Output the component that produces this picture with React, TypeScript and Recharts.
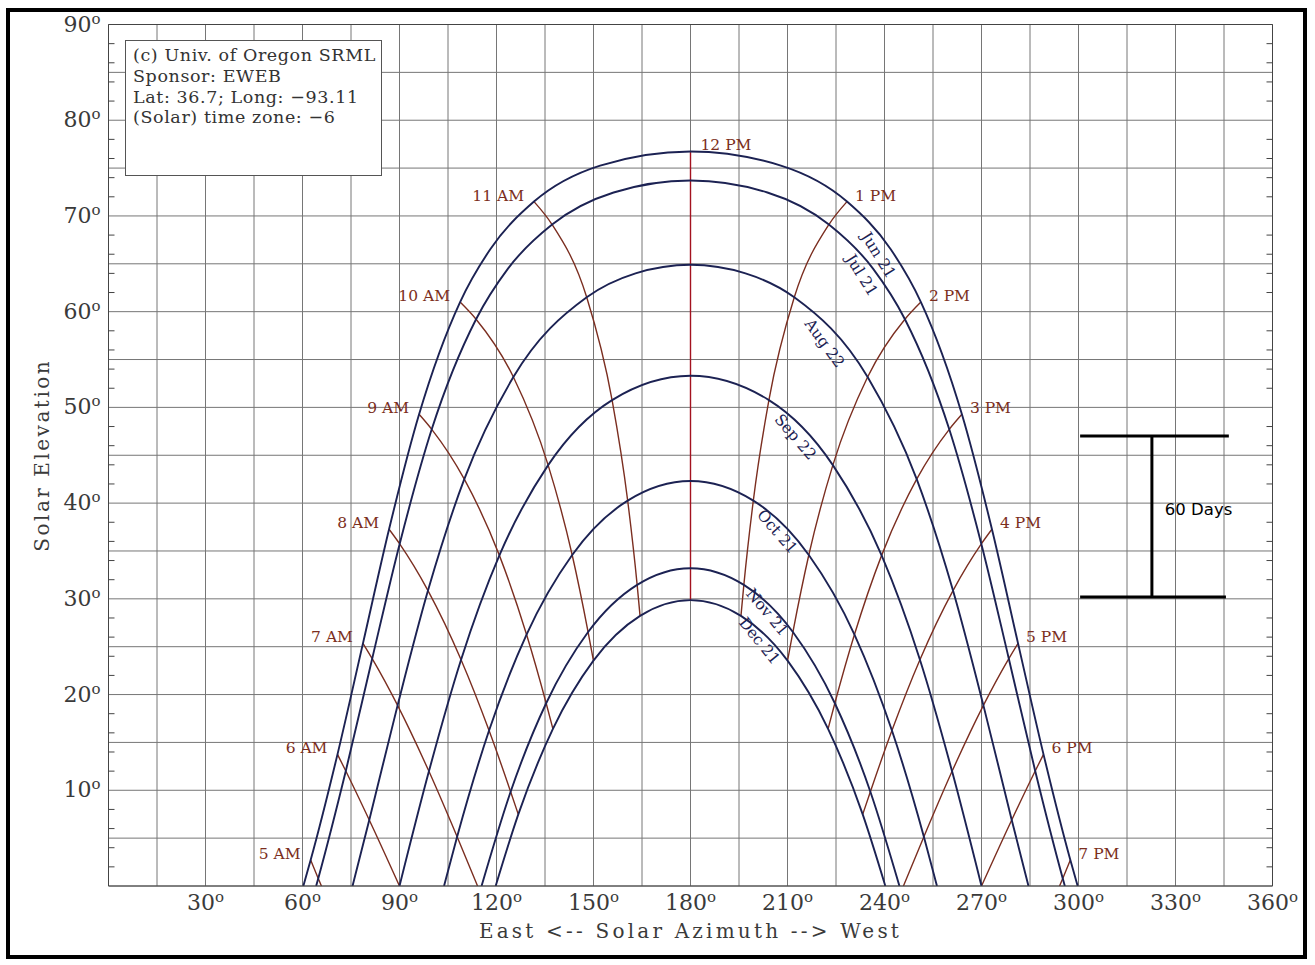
import React from "react";
import { LineChart, Line, XAxis, YAxis, CartesianGrid, ReferenceDot, ReferenceLine, Label } from "recharts";

// sun path per date: [azimuth, elevation]
const JUN_21 = [[60.26, 0], [62.52, 2.71], [70.82, 13.75], [78.7, 25.35], [86.77, 37.27], [96.06, 49.28], [108.74, 61.0], [118.13, 66.55], [131.6, 71.5], [152.05, 75.26], [180, 76.74], [207.95, 75.26], [228.4, 71.5], [241.87, 66.55], [251.26, 61.0], [263.94, 49.28], [273.23, 37.27], [281.3, 25.35], [289.18, 13.75], [297.48, 2.71], [299.74, 0]];
const JUL_21 = [[64.23, 0], [64.87, 0.79], [73.39, 12.02], [81.55, 23.75], [90.05, 35.74], [99.97, 47.71], [113.68, 59.21], [123.55, 64.5], [137.2, 69.1], [156.22, 72.45], [180, 73.7], [203.78, 72.45], [222.8, 69.1], [236.45, 64.5], [246.32, 59.21], [260.03, 47.71], [269.95, 35.74], [278.45, 23.75], [286.61, 12.02], [295.13, 0.79], [295.77, 0]];
const AUG_22 = [[75.47, 0], [80.65, 6.9], [89.41, 18.87], [98.81, 30.86], [110.04, 42.5], [125.22, 53.17], [147.9, 61.5], [163.0, 64.0], [180, 64.9], [197.0, 64.0], [212.1, 61.5], [234.78, 53.17], [249.96, 42.5], [261.19, 30.86], [270.59, 18.87], [279.35, 6.9], [284.53, 0]];
const SEP_22 = [[90, 0], [99.1, 11.98], [109.04, 23.64], [120.89, 34.54], [135.97, 43.97], [155.75, 50.76], [180, 53.3], [204.25, 50.76], [224.03, 43.97], [239.11, 34.54], [250.96, 23.64], [260.9, 11.98], [270, 0]];
const OCT_21 = [[103.77, 0], [107.82, 5.15], [117.7, 16.24], [129.29, 26.27], [143.41, 34.58], [160.57, 40.26], [180, 42.31], [199.43, 40.26], [216.59, 34.58], [230.71, 26.27], [242.3, 16.24], [252.18, 5.15], [256.23, 0]];
const NOV_21 = [[115.38, 0], [124.37, 9.85], [135.36, 19.09], [148.33, 26.53], [163.5, 31.46], [180, 33.2], [196.5, 31.46], [211.67, 26.53], [224.64, 19.09], [235.63, 9.85], [244.62, 0]];
const DEC_21 = [[119.74, 0], [126.74, 7.48], [137.45, 16.41], [149.98, 23.54], [164.4, 28.22], [180, 29.86], [195.6, 28.22], [210.02, 23.54], [222.55, 16.41], [233.26, 7.48], [240.26, 0]];

// hour lines, Jun 21 -> Dec 21 (sorted by azimuth)
const H05 = [[62.52, 2.71], [64.87, 0.79], [65.85, 0]];
const H06 = [[70.82, 13.75], [73.39, 12.02], [80.65, 6.9], [90, 0]];
const H07 = [[78.7, 25.35], [81.55, 23.75], [89.41, 18.87], [99.1, 11.98], [107.82, 5.15], [114.15, 0]];
const H08 = [[86.77, 37.27], [90.05, 35.74], [98.81, 30.86], [109.04, 23.64], [117.7, 16.24], [124.37, 9.85], [126.74, 7.48]];
const H09 = [[96.06, 49.28], [99.97, 47.71], [110.04, 42.5], [120.89, 34.54], [129.29, 26.27], [135.36, 19.09], [137.45, 16.41]];
const H10 = [[108.74, 61.0], [113.68, 59.21], [125.22, 53.17], [135.97, 43.97], [143.41, 34.58], [148.33, 26.53], [149.98, 23.54]];
const H11 = [[131.6, 71.5], [137.2, 69.1], [147.9, 61.5], [155.75, 50.76], [160.57, 40.26], [163.5, 31.46], [164.4, 28.22]];
const H12 = [[180, 29.86], [180, 76.74]];
const H13 = [[195.6, 28.22], [196.5, 31.46], [199.43, 40.26], [204.25, 50.76], [212.1, 61.5], [222.8, 69.1], [228.4, 71.5]];
const H14 = [[210.02, 23.54], [211.67, 26.53], [216.59, 34.58], [224.03, 43.97], [234.78, 53.17], [246.32, 59.21], [251.26, 61.0]];
const H15 = [[222.55, 16.41], [224.64, 19.09], [230.71, 26.27], [239.11, 34.54], [249.96, 42.5], [260.03, 47.71], [263.94, 49.28]];
const H16 = [[233.26, 7.48], [235.63, 9.85], [242.3, 16.24], [250.96, 23.64], [261.19, 30.86], [269.95, 35.74], [273.23, 37.27]];
const H17 = [[245.85, 0], [252.18, 5.15], [260.9, 11.98], [270.59, 18.87], [278.45, 23.75], [281.3, 25.35]];
const H18 = [[270, 0], [279.35, 6.9], [286.61, 12.02], [289.18, 13.75]];
const H19 = [[294.15, 0], [295.13, 0.79], [297.48, 2.71]];

const DATES = [
  { name: "Jun 21", pts: JUN_21 },
  { name: "Jul 21", pts: JUL_21 },
  { name: "Aug 22", pts: AUG_22 },
  { name: "Sep 22", pts: SEP_22 },
  { name: "Oct 21", pts: OCT_21 },
  { name: "Nov 21", pts: NOV_21 },
  { name: "Dec 21", pts: DEC_21 },
];

const HOURS = [
  { name: "5 AM", pts: H05, side: "am" },
  { name: "6 AM", pts: H06, side: "am" },
  { name: "7 AM", pts: H07, side: "am" },
  { name: "8 AM", pts: H08, side: "am" },
  { name: "9 AM", pts: H09, side: "am" },
  { name: "10 AM", pts: H10, side: "am" },
  { name: "11 AM", pts: H11, side: "am" },
  { name: "12 PM", pts: H12, side: "noon" },
  { name: "1 PM", pts: H13, side: "pm" },
  { name: "2 PM", pts: H14, side: "pm" },
  { name: "3 PM", pts: H15, side: "pm" },
  { name: "4 PM", pts: H16, side: "pm" },
  { name: "5 PM", pts: H17, side: "pm" },
  { name: "6 PM", pts: H18, side: "pm" },
  { name: "7 PM", pts: H19, side: "pm" },
];

// where the date names sit along the afternoon side of each curve
const DATE_LABEL_POS = [
  { name: "Jun 21", az: 238.1, el: 65.9, angle: 58 },
  { name: "Jul 21", az: 232.9, el: 63.8, angle: 58 },
  { name: "Aug 22", az: 221.4, el: 56.7, angle: 54 },
  { name: "Sep 22", az: 212.4, el: 46.9, angle: 49 },
  { name: "Oct 21", az: 206.8, el: 37.0, angle: 49 },
  { name: "Nov 21", az: 203.7, el: 28.6, angle: 50 },
  { name: "Dec 21", az: 201.3, el: 25.6, angle: 51 },
];

const GRID_X = [0, 15, 30, 45, 60, 75, 90, 105, 120, 135, 150, 165, 180, 195, 210, 225, 240, 255, 270, 285, 300, 315, 330, 345, 360];
const GRID_Y = [0, 5, 10, 15, 20, 25, 30, 35, 40, 45, 50, 55, 60, 65, 70, 75, 80, 85, 90];
const MINOR_X = [5, 10, 20, 25, 35, 40, 50, 55, 65, 70, 80, 85, 95, 100, 110, 115, 125, 130, 140, 145, 155, 160, 170, 175, 185, 190, 200, 205, 215, 220, 230, 235, 245, 250, 260, 265, 275, 280, 290, 295, 305, 310, 320, 325, 335, 340, 350, 355];
const MINOR_Y = [2, 4, 6, 8, 12, 14, 16, 18, 22, 24, 26, 28, 32, 34, 36, 38, 42, 44, 46, 48, 52, 54, 56, 58, 62, 64, 66, 68, 72, 74, 76, 78, 82, 84, 86, 88];

const INFO_LINES = ["(c) Univ. of Oregon SRML", "Sponsor: EWEB", "Lat: 36.7; Long: \u221293.11", "(Solar) time zone: \u22126"];

const SERIF = '"DejaVu Serif", serif';
const NAVY = "#1c2253";
const BROWN = "#7b2e20";
const NOON = "#a3121f";
const GRID = "#767676";
const AXIS = "#444";
const TEXT = "#3a3a3a";

const toPts = (arr: number[][]) => arr.map(([az, el]) => ({ az, el }));

const NoLabel = () => <g />;

const XTick = ({ x, y, payload }: any) => {
  const v = payload.value;
  if (v === 0 || v % 30 !== 0) return <g />;
  return (
    <text x={x} y={y + 16} textAnchor="middle" fontFamily={SERIF} fontSize={22} fill={TEXT}>
      {v}
      <tspan fontSize={15} dy={-8}>o</tspan>
    </text>
  );
};

const YTick = ({ x, y, payload }: any) => {
  const v = payload.value;
  if (v === 0 || v % 10 !== 0) return <g />;
  return (
    <text x={x} y={y + 7} textAnchor="end" fontFamily={SERIF} fontSize={22} fill={TEXT}>
      {v}
      <tspan fontSize={15} dy={-8}>o</tspan>
    </text>
  );
};

const XTitle = ({ viewBox }: any) => (
  <text x={viewBox.x + viewBox.width / 2} y={viewBox.y + 52} textAnchor="middle" fontFamily={SERIF} fontSize={20} fill={TEXT} style={{ letterSpacing: 3.2 }}>
    East &lt;-- Solar Azimuth --&gt; West
  </text>
);

const YTitle = ({ viewBox }: any) => {
  const cx = viewBox.x - 7;
  const cy = viewBox.y + viewBox.height / 2;
  return (
    <text x={cx} y={cy} transform={`rotate(-90 ${cx} ${cy})`} textAnchor="middle" dominantBaseline="central" fontFamily={SERIF} fontSize={20} fill={TEXT} style={{ letterSpacing: 2.5 }}>
      Solar Elevation
    </text>
  );
};

export default function App() {
  return (
    <div style={{ position: "absolute", left: 0, top: 0, width: 1315, height: 965, background: "#fff" }}>
      <LineChart width={1315} height={965} margin={{ top: 24.5, right: 42.5, bottom: 24, left: 48.5 }}>
        <CartesianGrid stroke={GRID} strokeWidth={1} />
        <XAxis dataKey="az" type="number" domain={[0, 360]} ticks={GRID_X} interval={0} allowDataOverflow tick={XTick} tickLine={false} axisLine={{ stroke: AXIS }} height={55}>
          <Label content={XTitle} />
        </XAxis>
        <YAxis type="number" domain={[0, 90]} ticks={GRID_Y} interval={0} allowDataOverflow tick={YTick} tickLine={false} axisLine={{ stroke: AXIS }} width={60}>
          <Label content={YTitle} />
        </YAxis>
        {/* inward minor ticks on all four sides */}
        <XAxis xAxisId="bottomMinor" orientation="bottom" mirror type="number" domain={[0, 360]} ticks={MINOR_X} interval={0} allowDataOverflow tick={NoLabel} tickSize={6} tickLine={{ stroke: AXIS }} axisLine={false} />
        <XAxis xAxisId="topMinor" orientation="top" mirror type="number" domain={[0, 360]} ticks={MINOR_X} interval={0} allowDataOverflow tick={NoLabel} tickSize={6} tickLine={{ stroke: AXIS }} axisLine={{ stroke: AXIS }} />
        <YAxis yAxisId="leftMinor" orientation="left" mirror type="number" domain={[0, 90]} ticks={MINOR_Y} interval={0} allowDataOverflow tick={NoLabel} tickSize={6} tickLine={{ stroke: AXIS }} axisLine={false} />
        <YAxis yAxisId="rightMinor" orientation="right" mirror type="number" domain={[0, 90]} ticks={MINOR_Y} interval={0} allowDataOverflow tick={NoLabel} tickSize={6} tickLine={{ stroke: AXIS }} axisLine={{ stroke: AXIS }} />

        {HOURS.map((h) => (
          <Line
            key={h.name}
            data={toPts(h.pts)}
            dataKey="el"
            type={h.side === "noon" ? "linear" : "monotone"}
            stroke={h.side === "noon" ? NOON : BROWN}
            strokeWidth={1.4}
            dot={false}
            isAnimationActive={false}
          />
        ))}
        {DATES.map((d) => (
          <Line key={d.name} data={toPts(d.pts)} dataKey="el" type="monotone" stroke={NAVY} strokeWidth={1.9} dot={false} isAnimationActive={false} />
        ))}

        {HOURS.map((h) => {
          const [az, el] = h.side === "am" ? h.pts[0] : h.pts[h.pts.length - 1];
          return (
            <ReferenceDot
              key={"lbl" + h.name}
              x={az}
              y={el}
              r={0}
              shape={(p: any) => (
                <text
                  x={p.cx + (h.side === "am" ? -10 : h.side === "noon" ? 10 : 8)}
                  y={p.cy - 6}
                  textAnchor={h.side === "am" ? "end" : "start"}
                  dominantBaseline="central"
                  fontFamily={SERIF}
                  fontSize={15.5}
                  fill={BROWN}
                >
                  {h.name}
                </text>
              )}
            />
          );
        })}
        {DATE_LABEL_POS.map((d) => (
          <ReferenceDot
            key={"dl" + d.name}
            x={d.az}
            y={d.el}
            r={0}
            shape={(p: any) => (
              <text
                x={p.cx}
                y={p.cy}
                transform={`rotate(${d.angle} ${p.cx} ${p.cy})`}
                textAnchor="middle"
                dominantBaseline="central"
                fontFamily={SERIF}
                fontSize={15.5}
                fill={NAVY}
              >
                {d.name}
              </text>
            )}
          />
        ))}

        {/* 60 days bracket */}
        <ReferenceLine segment={[{ x: 300.5, y: 47.0 }, { x: 346.5, y: 47.0 }]} stroke="#000" strokeWidth={3} />
        <ReferenceLine segment={[{ x: 300.5, y: 30.2 }, { x: 345.6, y: 30.2 }]} stroke="#000" strokeWidth={3} />
        <ReferenceLine segment={[{ x: 322.7, y: 47.0 }, { x: 322.7, y: 30.2 }]} stroke="#000" strokeWidth={3} />
        <ReferenceDot
          x={326.7}
          y={39.3}
          r={0}
          shape={(p: any) => (
            <text x={p.cx} y={p.cy} dominantBaseline="central" fontFamily='"DejaVu Sans", sans-serif' fontSize={16.5} fill="#000">
              60 Days
            </text>
          )}
        />
      </LineChart>

      <div
        style={{
          position: "absolute",
          left: 125,
          top: 40,
          width: 257,
          height: 136,
          boxSizing: "border-box",
          border: "1px solid #555",
          background: "#fff",
          fontFamily: SERIF,
          fontSize: 17.5,
          lineHeight: "20.8px",
          color: "#333",
          padding: "4px 0 0 7px",
          letterSpacing: 0.6,
          whiteSpace: "pre",
        }}
      >
        {INFO_LINES.map((t) => (
          <div key={t}>{t}</div>
        ))}
      </div>

      <div
        style={{
          position: "absolute",
          left: 6,
          top: 8,
          width: 1301,
          height: 951,
          boxSizing: "border-box",
          border: "4px solid #000",
          pointerEvents: "none",
        }}
      />
    </div>
  );
}
